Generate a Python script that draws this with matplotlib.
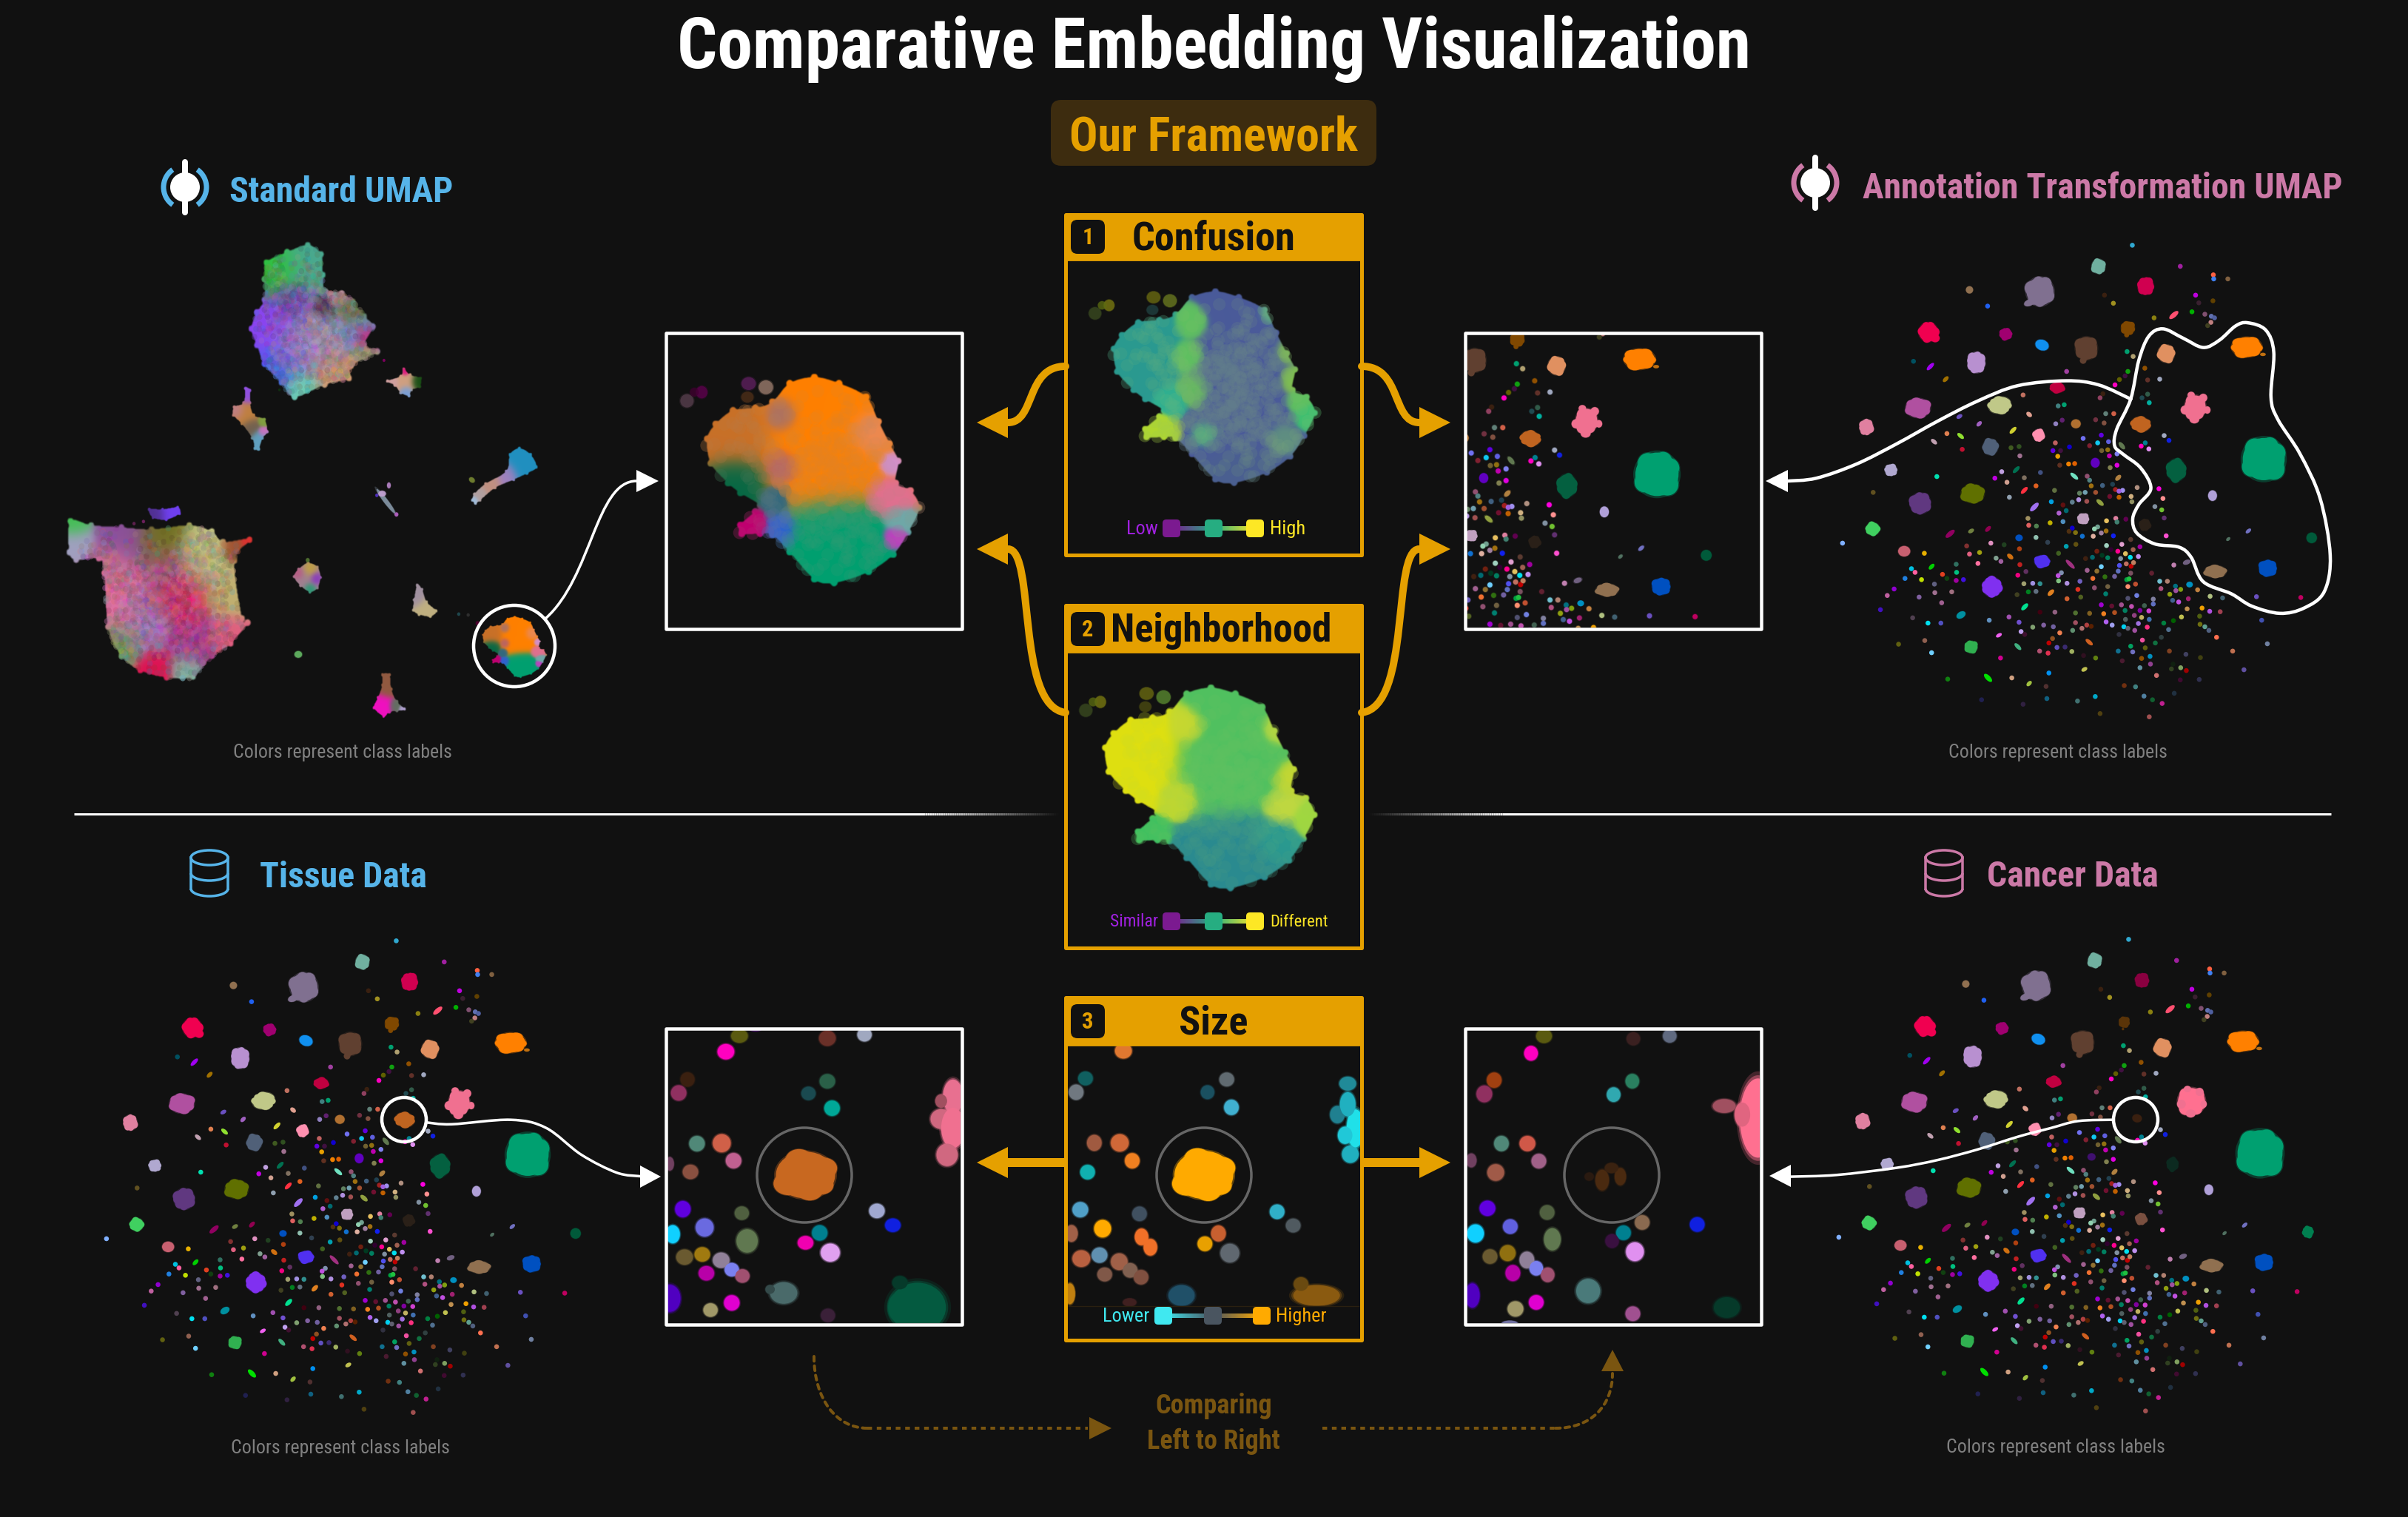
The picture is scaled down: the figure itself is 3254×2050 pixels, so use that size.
import numpy as np
import matplotlib
matplotlib.use("Agg")
import matplotlib.pyplot as plt
import matplotlib.colors as mcolors
from matplotlib import font_manager as fm
from matplotlib.path import Path
from matplotlib.patches import (Ellipse, PathPatch, Polygon, FancyBboxPatch, Circle, Arc, Rectangle)
from matplotlib.collections import PatchCollection, LineCollection

W, H = 3254, 2050
BG = "#111111"
GOLD = "#e5a000"
BLUE = "#56b4e9"
PINK = "#cc79a7"
DIM = "#7a5510"

installed = {f.name for f in fm.fontManager.ttflist}
COND = next(n for n in ["Roboto Condensed", "Liberation Sans Narrow", "Roboto"] if n in installed)
plt.rcParams["font.family"] = [COND]

# ---------- text ----------
TITLE = "Comparative Embedding Visualization"
FRAMEWORK = "Our Framework"
CAPTION = "Colors represent class labels"
SECTION_TITLES = ["Standard UMAP", "Annotation Transformation UMAP", "Tissue Data", "Cancer Data"]
METRICS = ["Confusion", "Neighborhood", "Size"]
LEGENDS = [("Low", "High"), ("Similar", "Different"), ("Lower", "Higher")]
LEGEND_COLOURS = [("#7b1a90", "#26ad81", "#fde725"), ("#7b1a90", "#26ad81", "#fde725"), ("#40e8f0", "#4a5560", "#ffaa00")]
LEGEND_TEXT = [("#a020e0", "#fde725"), ("#a020e0", "#fde725"), ("#40e8f0", "#ffaa00")]

# ---------- embedding: large clusters (x, y, w, h, angle, colour) ----------
BLOBS = [
 (800,328,36,38,0,"#70b0a0"),(655,390,72,74,0,"#807090"),(628,418,26,16,-20,"#807090"),(917,377,42,44,0,"#d00050"),
 (378,490,50,50,0,"#f00050"),(395,505,22,20,0,"#f00050"),(570,495,32,30,0,"#a00070"),(660,522,34,26,20,"#1090f0"),
 (770,530,58,60,0,"#604030"),(762,560,16,16,0,"#604030"),(873,480,36,34,0,"#804800"),(870,497,12,12,0,"#804800"),
 (968,543,44,46,0,"#e09060"),(1168,527,78,52,0,"#ff8000"),(1208,545,14,8,0,"#c07010"),(497,565,46,54,0,"#b890d0"),
 (698,627,38,28,0,"#c00040"),(352,677,64,50,0,"#b050a0"),(224,724,36,40,0,"#e080a0"),(555,670,58,42,-15,"#c0c888"),
 (1040,675,56,62,0,"#f07090"),(1015,682,22,22,0,"#f07090"),(1060,652,20,20,0,"#f07090"),(1070,682,16,18,0,"#f07090"),
 (1038,705,24,20,0,"#f07090"),(1030,645,18,16,0,"#f07090"),(905,717,50,38,10,"#c06420"),(744,716,24,22,0,"#b07030"),
 (652,744,30,32,0,"#ff90b0"),(532,773,40,42,0,"#506078"),(285,830,32,30,0,"#b0a8d0"),(792,812,22,24,0,"#6000c0"),
 (1210,803,112,112,0,"#00a070"),(993,830,50,58,0,"#046040"),(488,888,60,48,0,"#607000"),(358,912,54,54,0,"#603880"),
 (240,975,36,34,0,"#40d060"),(762,950,30,28,0,"#c0a0c0"),(1083,893,22,26,0,"#b0a0d8"),(318,1030,30,26,0,"#c86070"),
 (660,1055,40,32,0,"#5030f0"),(1090,1080,56,32,0,"#907050"),(1220,1072,46,42,0,"#0050c0"),(536,1118,50,50,0,"#8030f0"),
 (484,1266,34,32,0,"#30b050"),(915,965,30,30,0,"#2a2018"),(1329,997,26,26,0,"#005a3a"),(480,386,18,18,0,"#907050"),
 (459,1187,24,16,-30,"#0090a0"),(603,997,18,16,0,"#0050c0"),(1026,1112,16,14,0,"#0090c0"),
]
# elongated small clusters (x, y, length, width, angle, colour)
STREAKS = [
 (383,575,24,10,-45,"#a000f0"),(421,606,18,10,-45,"#a07000"),(987,448,28,12,-40,"#ff5070"),(458,746,20,10,40,"#90e030"),
 (588,732,22,10,-45,"#d0d030"),(641,921,28,12,-45,"#a070f0"),(596,829,22,10,-45,"#007050"),(740,845,24,10,40,"#70e0c0"),
 (616,880,22,10,-45,"#ff3040"),(804,910,22,11,40,"#90a040"),(432,987,28,12,-40,"#900060"),(526,975,18,10,-45,"#900050"),
 (484,980,16,10,-30,"#708040"),(730,1062,30,10,45,"#a03080"),(617,1167,22,11,-45,"#00e090"),(600,1265,22,10,45,"#40b080"),
 (777,1254,22,10,40,"#d06020"),(526,1342,26,12,45,"#00e000"),(628,1356,16,10,-45,"#a0c040"),(765,1321,16,10,-30,"#c0c050"),
 (553,1237,16,9,-30,"#f060f0"),(1172,980,16,9,-40,"#7070c0"),(1122,1000,12,8,-40,"#507060"),(849,849,18,11,-45,"#b08040"),
 (386,1068,18,10,-45,"#00d000"),(682,1132,20,11,-45,"#e08020"),(581,1043,18,11,40,"#d07010"),(392,760,18,10,40,"#c0a0b0"),
 (504,716,16,10,-45,"#a060c0"),(455,698,16,10,-30,"#6a50c0"),(628,693,16,11,40,"#e0a090"),(1019,1057,20,12,-20,"#706080"),
 (858,770,22,11,50,"#607850"),
]
DOTS_TOP = [
 (884,276,"#30a8d0"),(1003,328,"#a020a0"),(1085,349,"#ff6040"),(1086,359,"#4080f0"),(1121,359,"#806040"),(815,399,"#3a2010"),
 (837,419,"#a09020"),(1041,399,"#c000e0"),(1049,418,"#3a2030"),(1084,413,"#604000"),(525,426,"#2060f0"),(938,455,"#8a8010"),
 (1032,440,"#00b000"),(1064,446,"#805070"),(1080,451,"#6070b0"),(1088,455,"#5060a0"),(1079,466,"#c08080"),(1071,474,"#404020"),
 (871,538,"#00a070"),(886,550,"#b0a070"),(341,562,"#005060"),(721,587,"#a040a0"),(915,579,"#905000"),(873,587,"#10a010"),
 (852,607,"#606000"),(866,598,"#401040"),(922,608,"#603028"),(952,606,"#a0a8c0"),(841,620,"#ff00c0"),(613,645,"#c07060"),
 (811,642,"#3a2010"),(804,652,"#904060"),(922,643,"#305a48"),(908,652,"#204a50"),(926,664,"#00b0a0"),(700,672,"#408080"),
 (715,669,"#00a070"),(818,691,"#608078"),(838,691,"#d06048"),(814,714,"#805040"),(793,706,"#703040"),(694,716,"#9080c0"),
 (710,707,"#602070"),(424,740,"#e08050"),(462,779,"#c01030"),(583,775,"#405a20"),(603,772,"#305020"),(762,752,"#7070f0"),
 (807,744,"#6000e0"),(798,763,"#10c8f0"),(825,760,"#6060e0"),(693,763,"#c06060"),(687,782,"#6000e0"),(728,773,"#1000d0"),
 (706,782,"#401040"),(699,796,"#e8a000"),(778,770,"#802030"),(808,782,"#706030"),(823,780,"#907010"),(846,790,"#8080f0"),
 (827,795,"#c000b0"),(963,745,"#a0a8c0"),(975,757,"#1020e0"),(906,771,"#ff00c0"),(916,763,"#008090"),(925,778,"#e090f0"),
 (605,795,"#a07090"),(560,834,"#c0a0e0"),(543,850,"#c000e0"),(573,860,"#d0a090"),(616,849,"#807060"),(656,836,"#405080"),
 (726,815,"#f08000"),(741,814,"#e06000"),(704,818,"#603020"),(829,824,"#808050"),(846,818,"#e000e0"),(772,845,"#905070"),
 (778,855,"#508080"),(399,846,"#00e0b0"),(241,885,"#605020"),(645,869,"#e06020"),(691,880,"#607040"),(782,869,"#a07010"),
 (810,868,"#406080"),(835,865,"#204050"),(842,878,"#a02020"),(860,880,"#a090f0"),(851,882,"#a060e0"),(753,887,"#608060"),
 (767,885,"#70a0b0"),(793,885,"#a05030"),(579,897,"#90a0b0"),(828,895,"#701030"),(851,897,"#c06000"),(881,895,"#d0b080"),
 (883,908,"#909060"),(683,908,"#00a0e0"),(751,903,"#b090e0"),(771,907,"#a05050"),(735,909,"#608090"),(712,916,"#601010"),
]
DOTS_MID = [
 (720,930,"#006a70"),(702,936,"#b060d0"),(896,873,"#b09080"),(950,876,"#ff00e0"),(960,900,"#ff9090"),(940,920,"#8090a0"),
 (957,928,"#70c030"),(963,948,"#603070"),(868,951,"#600050"),(843,949,"#e080a0"),(846,958,"#408070"),(820,955,"#e8c060"),
 (798,970,"#70a090"),(790,975,"#90d0b0"),(625,949,"#a09060"),(680,960,"#c0b000"),(712,957,"#5090c0"),(627,966,"#e06060"),
 (646,968,"#508050"),(735,973,"#1000d0"),(727,981,"#503010"),(743,984,"#807010"),(760,993,"#1070d0"),(787,993,"#e0b0a0"),
 (807,985,"#a080a0"),(819,980,"#a07010"),(837,992,"#1020f0"),(880,1001,"#5a3a30"),(968,992,"#ff50d0"),(645,996,"#90c0b0"),
 (533,1010,"#e090c0"),(473,1017,"#803030"),(566,1014,"#204020"),(604,1024,"#b04010"),(674,1008,"#304050"),(720,1018,"#00a0b0"),
 (744,1013,"#605010"),(768,1048,"#402010"),(785,1045,"#006a70"),(796,1030,"#702010"),(820,1016,"#a0d0c0"),(848,1030,"#ff0090"),
 (867,1036,"#e0c060"),(886,1026,"#a06050"),(903,1019,"#a000a0"),(858,1013,"#e0a0d0"),(831,1026,"#300030"),(809,1040,"#003a20"),
 (823,1046,"#008060"),(855,1048,"#8090a0"),(879,1045,"#00e0f0"),(899,1043,"#c090f0"),(987,1064,"#c080b0"),(480,1037,"#e06080"),
 (505,1033,"#a0a010"),(546,1047,"#80a090"),(558,1055,"#a060a0"),(447,1062,"#307060"),(501,1060,"#ff70a0"),(605,1063,"#c02020"),
 (701,1035,"#406020"),(772,1077,"#a06090"),(796,1079,"#907030"),(807,1068,"#70d0ff"),(852,1065,"#5050f0"),(869,1061,"#c07060"),
 (881,1067,"#c00000"),(887,1058,"#c08060"),(849,1079,"#6070c0"),(880,1084,"#7a5060"),(368,1035,"#e8b000"),(336,1073,"#00c0e0"),
 (345,1082,"#ff60a0"),(413,1087,"#e04020"),(448,1082,"#00c080"),(424,1097,"#104010"),(361,1100,"#c0e000"),(320,1097,"#2080e0"),
 (447,1102,"#a000a0"),(465,1100,"#4010e0"),(393,1111,"#606080"),(600,1089,"#f00080"),(620,1080,"#603060"),(708,1083,"#8090b0"),
 (700,1090,"#c050e0"),(615,1110,"#a0a070"),(637,1109,"#a090e0"),(655,1110,"#309090"),(701,1103,"#80c080"),(722,1109,"#b090e0"),
 (754,1104,"#7060c0"),(786,1097,"#f07030"),(816,1093,"#307010"),(870,1100,"#00a040"),(876,1098,"#20c040"),(892,1111,"#c05030"),
 (873,1117,"#ff9070"),(932,1084,"#602030"),(952,1104,"#70c0d0"),(971,1104,"#b08070"),(991,1116,"#007080"),(1046,1125,"#c08040"),
 (1004,1124,"#80a010"),(977,1136,"#90a010"),(955,1122,"#b05080"),(992,1127,"#a050a0"),(165,1010,"#80b0ff"),(840,1092,"#7060a0"),
]
DOTS_LOW = [
 (293,1123,"#9000d0"),(276,1139,"#c060a0"),(259,1174,"#4010c0"),(355,1143,"#8060a0"),(394,1132,"#a07090"),(436,1130,"#a07080"),
 (411,1157,"#a06090"),(598,1137,"#404020"),(626,1130,"#008020"),(645,1129,"#607080"),(749,1124,"#e03020"),(790,1120,"#905070"),
 (823,1117,"#706040"),(722,1147,"#d06030"),(756,1143,"#506020"),(818,1135,"#008070"),(895,1139,"#7080e0"),(873,1146,"#505070"),
 (936,1148,"#8080a0"),(1023,1147,"#a02070"),(1108,1145,"#406070"),(1077,1141,"#b0c080"),(1192,1142,"#6a50c0"),(1302,1144,"#c00060"),
 (999,1155,"#c050e0"),(984,1151,"#406090"),(1020,1172,"#c09050"),(1057,1170,"#f0a000"),(1076,1178,"#b050e0"),(1102,1179,"#a04050"),
 (807,1162,"#a000d0"),(833,1165,"#601030"),(857,1162,"#a05090"),(882,1166,"#c050b0"),(903,1176,"#8000a0"),(925,1177,"#d040d0"),
 (936,1160,"#6070c0"),(914,1164,"#406050"),(866,1176,"#008060"),(377,1207,"#00e0f0"),(409,1207,"#5050c0"),(339,1194,"#504050"),
 (529,1200,"#6090c0"),(578,1192,"#a050b0"),(603,1205,"#7050d0"),(655,1180,"#400010"),(692,1180,"#906080"),(743,1182,"#507030"),
 (778,1183,"#806020"),(813,1184,"#f08020"),(840,1181,"#b05020"),(889,1188,"#904080"),(907,1193,"#c0b060"),(926,1198,"#4070b0"),
 (867,1198,"#506060"),(962,1207,"#008040"),(986,1201,"#006000"),(1006,1192,"#c0c050"),(1051,1190,"#506010"),(1052,1210,"#707010"),
 (1205,1200,"#4050b0"),(1064,1216,"#60a090"),(1074,1225,"#506080"),(637,1217,"#80a070"),(664,1212,"#8060a0"),(688,1216,"#7060a0"),
 (743,1206,"#a05060"),(771,1212,"#b04040"),(819,1204,"#b060f0"),(834,1212,"#a0a0f0"),(863,1216,"#00d0f0"),(873,1220,"#606070"),
 (851,1235,"#303040"),(890,1225,"#a050a0"),(899,1208,"#a070e0"),(921,1217,"#ff3080"),(974,1223,"#507090"),(1093,1242,"#ff7050"),
 (608,1228,"#c0a0f0"),(617,1235,"#401030"),(704,1231,"#f08050"),(736,1225,"#609070"),(759,1220,"#b07070"),(782,1215,"#5a2000"),
 (956,1242,"#304040"),(686,1245,"#905020"),(941,1256,"#107040"),(909,1249,"#f050a0"),(677,1256,"#c00000"),(880,1264,"#00a060"),
 (916,1268,"#606010"),(885,1278,"#7070c0"),(976,1276,"#804020"),(1133,1276,"#c07050"),(369,1250,"#906050"),(304,1259,"#606010"),
 (697,1267,"#6050c0"),(717,1266,"#3a2a70"),(654,1276,"#b05070"),(675,1281,"#e03050"),(734,1277,"#a0b060"),(849,1276,"#107090"),
 (386,1280,"#70d0ff"),(1219,1258,"#7080a0"),(1017,1284,"#404060"),(763,1287,"#301020"),(557,1293,"#d00090"),(793,1293,"#608010"),
 (907,1294,"#905000"),(928,1289,"#0090c0"),(929,1308,"#904090"),(1053,1292,"#404010"),(859,1300,"#4a1a30"),(985,1308,"#102010"),
 (903,1317,"#6090a0"),(1004,1317,"#80a060"),(981,1320,"#304020"),(1018,1324,"#a00000"),(1161,1322,"#6050a0"),(944,1336,"#d07070"),
 (426,1345,"#108010"),(585,1342,"#d0a080"),(677,1330,"#0090f0"),(1003,1347,"#400a30"),(1050,1346,"#303050"),(670,1363,"#503030"),
 (864,1361,"#703010"),(892,1364,"#408080"),(913,1387,"#5080a0"),(988,1380,"#203040"),(510,1396,"#202050"),(672,1393,"#106080"),
 (748,1399,"#407070"),(792,1388,"#00a8c8"),(934,1396,"#106030"),(613,1407,"#302040"),(958,1405,"#c02090"),(804,1430,"#504010"),
 (926,1438,"#a05050"),
]
# how the clusters differ in the cancer panel (key: x, y of the cluster -> w, h, colour)
CANCER_BLOBS = {
 (917,377):(36,36,"#8a0040"),(873,480):(28,28,"#5a3408"),(870,497):(6,6,"#5a3408"),(905,717):(24,20,"#3a2010"),
 (993,830):(30,36,"#0c2a20"),(915,965):(30,30,"#7a5040"),(792,812):(20,18,"#401070"),(1040,675):(72,70,"#ff7090"),
 (1210,803):(120,122,"#00a070"),(1329,997):(28,30,"#008050"),
}
# ---------- standard UMAP (colour patches x, y, spread, colour) ----------
TOP_OUTLINE = [(705,310),(760,285),(815,268),(850,290),(855,340),(862,380),(905,385),(935,405),(965,440),(988,465),(965,510),(1000,525),
 (930,560),(925,590),(860,605),(780,635),(745,600),(700,555),(680,510),(665,470),(680,430),(700,400),(700,350)]
TOP_PATCHES = [(740,330,35,"#30c040"),(810,310,35,"#4aa890"),(710,470,40,"#8a44f0"),(725,570,35,"#4060f0"),(820,500,40,"#a090d0"),
 (860,490,30,"#b0a0b8"),(890,575,28,"#d09a70"),(790,612,25,"#70d0b0"),(925,425,22,"#5a7a30"),(925,470,25,"#7090d0"),(962,492,14,"#c03080"),
 (770,402,25,"#6a40c0"),(860,422,14,"#302040"),(905,395,18,"#c090a0"),(770,520,30,"#9070e0"),(960,525,12,"#a0a070")]
BOTTOM_OUTLINE = [(185,935),(240,945),(320,950),(400,955),(500,945),(560,960),(590,985),(660,980),(620,1030),(640,1170),(655,1180),(610,1230),
 (560,1260),(510,1310),(440,1312),(370,1295),(320,1260),(285,1190),(275,1060),(260,1025),(200,1028),(182,1010)]
BOTTOM_PATCHES = [(200,945,18,"#40c050"),(205,985,22,"#a0a0c0"),(320,1120,50,"#e070a0"),(300,1050,30,"#e07090"),(330,990,40,"#8a509a"),
 (420,985,35,"#707020"),(530,1030,38,"#c0c080"),(480,1115,38,"#f02060"),(410,1295,25,"#e01050"),(495,1295,25,"#80b8a0"),(320,1230,28,"#70a050"),
 (385,1180,38,"#a078c0"),(510,1225,35,"#b03090"),(595,1210,25,"#e06080"),(590,1110,30,"#c0b070"),(440,1050,30,"#a05080"),(620,1000,16,"#a05030"),(650,985,8,"#e03030")]
# smaller clusters of the standard UMAP: outline, patches
MINI_CLUSTERS = [
 ([(650,615),(662,620),(662,650),(672,680),(700,690),(708,720),(695,735),(685,762),(675,760),(668,735),(640,700),(618,680),(620,660),(645,650)],
  [(655,630,12,"#9050e0"),(650,675,16,"#c08040"),(630,668,10,"#c08090"),(665,710,12,"#706050"),(685,735,10,"#60a0c0"),(695,720,6,"#d070c0"),(695,695,6,"#80a040")]),
 ([(1025,597),(1060,585),(1068,568),(1085,582),(1112,590),(1110,610),(1088,618),(1082,632),(1060,625),(1045,607)],
  [(1075,598,14,"#d0a080"),(1103,598,9,"#104a10"),(1075,622,8,"#70a0e0"),(1040,600,8,"#d0a0a0"),(1072,575,5,"#e00080")]),
 ([(1250,885),(1255,870),(1285,845),(1340,815),(1350,775),(1375,760),(1405,775),(1420,805),(1395,820),(1360,835),(1310,855),(1270,885),(1258,892)],
  [(1385,790,24,"#2090c0"),(1340,825,15,"#a080c0"),(1300,840,15,"#c09080"),(1268,870,10,"#b0a0a0"),(1255,885,5,"#a0c0e0")]),
 ([(790,1050),(815,1035),(840,1045),(848,1070),(840,1095),(820,1105),(795,1090),(778,1068)],
  [(813,1068,22,"#a08090"),(820,1050,10,"#d0b020"),(835,1072,8,"#8020d0"),(820,1097,8,"#10a070"),(790,1060,8,"#c05080")]),
 ([(1097,1125),(1105,1090),(1118,1100),(1130,1130),(1155,1152),(1140,1165),(1110,1160),(1095,1150)],
  [(1125,1148,14,"#c0b080"),(1105,1120,12,"#a090a0")]),
 ([(1012,1305),(1030,1305),(1035,1340),(1050,1370),(1070,1388),(1050,1392),(1030,1395),(1015,1405),(990,1385),(1000,1360),(1012,1330)],
  [(1010,1378,14,"#f010c0"),(1022,1335,14,"#905a40"),(1045,1380,8,"#607060"),(1065,1389,5,"#b0a0d0")]),
 ([(395,905),(430,905),(470,900),(475,915),(440,930),(405,925)],
  [(450,908,18,"#7040f0"),(415,915,14,"#503090")]),
]
SMALL_CLUSTERS = [
 (1022,886,76,11,50,"#8090a0"),(1012,868,20,14,0,"#c0a0d0"),(1030,848,10,14,0,"#b080c0"),(1050,918,10,10,0,"#b060c0"),(998,872,8,8,0,"#5030c0"),
 (1250,835,16,12,30,"#708030"),(790,1255,20,16,0,"#60b060"),(1215,1158,8,8,0,"#204a50"),(1240,1160,8,8,0,"#303030"),(1265,1180,10,10,0,"#500030"),
 (1017,547,7,7,0,"#800060"),(740,618,6,6,0,"#103010"),(815,1028,10,10,0,"#507030"),(380,935,8,8,0,"#702060"),(355,940,8,8,0,"#602050"),
]
# ---------- magnified cluster in the insets ----------
CLUSTER_OUTLINE = [(225,490),(260,430),(330,375),(420,365),(490,340),(560,265),(660,240),(760,265),(870,320),(920,420),(965,510),(1000,580),
 (990,670),(1050,700),(1085,770),(1040,870),(980,960),(880,1030),(740,1075),(660,1060),(560,950),(490,880),(440,875),(365,875),(360,840),
 (420,785),(440,760),(360,710),(310,670),(240,590)]
CLUSTER_LABELS = [(340,490,70,"#c87028"),(700,500,110,"#ff8000"),(880,470,40,"#e88a60"),(340,650,50,"#046845"),(740,950,90,"#00a070"),
 (520,860,28,"#3060d0"),(410,845,28,"#c00070"),(960,725,32,"#e07090"),(985,890,18,"#c040c0"),(1000,820,22,"#70a8a8"),(970,590,20,"#d090d0"),
 (530,600,30,"#b06070"),(500,740,25,"#306880"),(530,400,30,"#a07070")]
CLUSTER_CONFUSION = [(760,300,50,"#4a5a9a"),(800,500,80,"#4a5a9a"),(760,800,80,"#4a5a9a"),(780,1030,60,"#4a6090"),(320,480,70,"#2a9a90"),
 (560,380,25,"#60c060"),(540,520,25,"#60c060"),(560,680,25,"#60b860"),(430,845,26,"#b0d830"),(900,330,22,"#60b880"),(970,500,25,"#80c050"),
 (1000,620,25,"#80c050"),(1020,720,20,"#60c060"),(1050,780,20,"#40c070"),(940,880,25,"#609080"),(480,720,25,"#30b090"),(620,860,22,"#50b080")]
CLUSTER_NEIGHBOUR = [(330,500,80,"#dfe010"),(700,300,50,"#50c060"),(750,550,90,"#50c060"),(760,950,80,"#2a8a90"),(920,880,40,"#2a9a90"),
 (930,420,25,"#b8d840"),(990,620,30,"#c8d830"),(950,740,30,"#c0d840"),(1050,790,25,"#a0d840"),(420,845,24,"#40c060"),(530,700,30,"#c0d830"),(560,400,30,"#c8d830")]
SATELLITES = [(145,335,54,54),(205,300,46,50),(175,300,36,36),(395,265,58,52),(465,280,58,56),(390,320,50,44)]
SATELLITE_COLOURS = [["#5a4050","#600050","#400030","#602060","#a08070","#503018"],
                     ["#3a4a20","#7a7a10","#5a6a10","#6a6a10","#6a7a20","#204040"],
                     ["#3a4a20","#7a7a10","#5a6a10","#6a6a10","#5a8a30","#4a4a10"]]
# ---------- bottom insets: (x, y, w, h, colour) ----------
TISSUE_INSET = [(1128,495,28,30,"#5a5a10"),(1105,530,28,34,"#ff00c0"),(1277,500,28,34,"#6a3028"),(1340,492,24,30,"#a0a8c0"),(1040,592,24,32,"#3a2010"),
 (1025,622,26,34,"#903060"),(1277,596,26,32,"#2a6048"),(1245,623,24,30,"#1a4a50"),(1285,656,26,34,"#00a898"),(1056,735,26,34,"#508878"),
 (1098,734,30,40,"#d06048"),(1118,773,26,34,"#c06090"),(1045,798,26,32,"#8a5040"),(1032,881,26,36,"#6000e0"),(1132,890,24,30,"#506040"),
 (1361,885,26,32,"#a0a8d0"),(1388,917,26,30,"#1020e0"),(1015,937,24,40,"#10d0ff"),(1069,922,30,40,"#6a6ae0"),(1141,952,36,52,"#607850"),
 (1240,956,26,30,"#f000b0"),(1264,934,26,34,"#008090"),(1282,978,32,40,"#e0a0f0"),(1035,988,28,34,"#6a5a30"),(1065,982,26,32,"#a07a10"),
 (1097,995,28,34,"#908098"),(1115,1016,24,30,"#7a80f0"),(1072,1024,26,32,"#b800a8"),(1133,1030,24,30,"#a05070"),(1203,1068,46,48,"#4a6a6a"),
 (1180,1060,16,20,"#344a4a"),(1115,1090,26,34,"#e000d0"),(1079,1106,24,30,"#a09868"),(1278,1118,24,30,"#3a2038"),(1010,1080,36,60,"#5000c0"),
 (1010,780,14,30,"#704060"),(1490,630,34,76,"#e87090"),(1470,680,36,44,"#d06880"),(1490,700,40,90,"#f07090"),(1480,760,36,50,"#d06880"),
 (1470,640,20,30,"#a05060"),(1430,1100,96,110,"#045a40"),(1395,1100,30,60,"#045a40"),(1400,1045,26,30,"#063a2a"),(1155,480,20,10,"#401060")]
SIZE_INSET = [(268,215,32,44,"#e07830"),(195,295,28,40,"#106060"),(177,335,28,44,"#707880"),(467,298,28,40,"#606a70"),(430,335,26,40,"#1a5060"),
 (476,379,28,44,"#40b0d0"),(212,482,28,46,"#a05a40"),(261,482,34,50,"#d06838"),(285,534,28,44,"#f08020"),(199,567,28,42,"#10b0b0"),
 (185,676,30,44,"#50a0c8"),(299,688,28,42,"#405060"),(228,731,32,50,"#ffaa00"),(168,745,24,48,"#a06048"),(303,755,26,48,"#f07028"),(320,785,26,48,"#f07028"),
 (451,745,28,46,"#c86030"),(425,775,28,42,"#e8a000"),(473,802,36,54,"#606870"),(564,682,28,42,"#30b0c8"),(595,722,28,40,"#505a60"),
 (187,818,34,48,"#b86040"),(222,808,30,44,"#6090b0"),(260,827,32,48,"#a06048"),(281,852,28,42,"#806050"),(232,864,28,40,"#805848"),
 (302,872,28,42,"#805040"),(380,925,50,60,"#205068"),(280,945,26,24,"#402020"),(165,920,20,60,"#c08010"),(640,925,90,60,"#8a5a10"),
 (610,892,28,40,"#6a4a10"),(680,400,28,50,"#208090"),(700,310,32,40,"#208a98"),(705,515,32,50,"#20b0c0"),(715,440,34,110,"#20e0e8"),(700,370,30,70,"#20b0c0"),
 (695,460,28,50,"#20c8d8"),(462,195,20,10,"#3a2a10")]
CANCER_INSET = [(1078,172,30,40,"#5a5a10"),(1053,222,26,42,"#ff00c0"),(1250,180,26,38,"#3a2020"),(1320,172,26,38,"#606a80"),(982,300,28,44,"#a04010"),
 (963,340,30,48,"#903060"),(1248,303,26,42,"#2a8060"),(1212,342,26,42,"#30a8b0"),(996,484,28,44,"#508878"),(1046,484,30,44,"#d05848"),
 (1068,535,28,42,"#a06088"),(985,568,32,48,"#a05a48"),(938,533,20,40,"#704060"),(969,672,30,44,"#6000e0"),(1084,684,28,42,"#506040"),
 (1267,713,28,42,"#8a6a50"),(1373,719,28,42,"#1020e0"),(1231,743,28,42,"#008090"),(1013,725,28,42,"#6060e0"),(946,745,32,52,"#10d0ff"),
 (1094,762,32,64,"#607850"),(1209,767,26,40,"#3a1040"),(1253,798,34,54,"#e090f0"),(974,812,28,42,"#6a5a30"),(1008,802,30,46,"#907010"),
 (1045,822,28,48,"#908098"),(1063,846,26,42,"#7a80f0"),(1018,860,28,46,"#b800a8"),(1085,865,26,42,"#a05070"),(1163,912,46,70,"#4a7a7a"),
 (1063,945,28,42,"#e000d0"),(1023,964,30,44,"#a09868"),(1249,978,28,42,"#a05090"),(940,925,28,70,"#5000c0"),(1430,960,50,60,"#063a2a"),
 (1190,590,26,60,"#4a2a10"),(1225,580,22,50,"#4a2a10"),(1208,555,26,30,"#3a2210"),(1165,580,18,24,"#2a1a10"),(1490,410,70,230,"#ff7090"),(1460,400,30,70,"#e06580"),
 (1425,375,44,40,"#a05060"),(1012,1006,30,16,"#7070a0")]
# big central clusters of the bottom insets (x, y, w, h, colour)
INSET_CORES = {"tissue":(1240,805,108,112,"#c86820"), "size":(423,575,122,150,"#ffaa00")}
# ---------- where lobes sit on a cluster edge (relative x, relative y, relative size) ----------
LOBES = [(0.42,-0.2,.42),(-0.4,0.25,.46),(0.1,0.45,.4),(-0.15,-0.45,.42),(0.38,0.3,.36),(-0.42,-0.22,.36),(0.2,-0.42,.34),(-0.25,0.42,.34)]

# ---------- helpers ----------
fig = plt.figure(figsize=(W/100, H/100), dpi=100, facecolor=BG)

def region(x, y, w, h, xlim=(0,1568), ylim=(0,1568), z=2):
    ax = fig.add_axes([x/W, 1-(y+h)/H, w/W, h/H], zorder=z)
    ax.set_xlim(*xlim); ax.set_ylim(ylim[1], ylim[0]); ax.axis("off"); ax.patch.set_alpha(0)
    return ax

ov = region(0, 0, W, H, (0,W), (0,H), z=8)

def spline(points, closed=False):
    P = np.array(points, float)
    n = len(P)
    verts, codes = [P[0]], [Path.MOVETO]
    segs = n if closed else n-1
    for i in range(segs):
        if closed:
            p0,p1,p2,p3 = P[(i-1)%n],P[i],P[(i+1)%n],P[(i+2)%n]
        else:
            p0,p1,p2,p3 = P[max(i-1,0)],P[i],P[i+1],P[min(i+2,n-1)]
        verts += [p1+(p2-p0)/6, p2-(p3-p1)/6, p2]
        codes += [Path.CURVE4]*3
    return Path(verts, codes)

def outline_polygon(outline):
    return Path(spline(outline, closed=True).to_polygons(closed_only=False)[0])

def local_colour(patches, x, y):
    tot = 1e-12; c = np.zeros(3)
    for (px,py,s,col) in patches:
        g = np.exp(-((x-px)**2+(y-py)**2)/(2*s*s))+1e-9
        c += g*np.array(mcolors.to_rgb(col)); tot += g
    return c/tot

def wash(ax, outline, patches, step=2.0, blur=3, bumps=0.0):
    pts = np.array(outline, float)
    x0,y0 = pts.min(0)-20-bumps; x1,y1 = pts.max(0)+20+bumps
    xs = np.arange(x0,x1,step); ys = np.arange(y0,y1,step)
    X,Y = np.meshgrid(xs,ys)
    m = outline_polygon(outline).contains_points(np.c_[X.ravel(),Y.ravel()]).reshape(X.shape)
    if bumps:
        for (px,py) in outline:
            m |= (X-px)**2+(Y-py)**2 < bumps**2
    m = m.astype(float)
    for _ in range(blur):
        m = (m+np.roll(m,1,0)+np.roll(m,-1,0)+np.roll(m,1,1)+np.roll(m,-1,1))/5
    rgb = np.zeros(X.shape+(3,)); tot = np.zeros(X.shape)
    for (px,py,s,c) in patches:
        g = np.exp(-((X-px)**2+(Y-py)**2)/(2*s*s))+1e-9
        rgb += g[...,None]*np.array(mcolors.to_rgb(c)); tot += g
    rgb /= tot[...,None]
    im = np.dstack([rgb, np.clip(m*1.5-0.25,0,1)])
    lim = (ax.get_xlim(), ax.get_ylim())
    ax.imshow(im, extent=(xs[0],xs[-1],ys[-1],ys[0]), origin="upper", aspect="auto", interpolation="bilinear", zorder=1)
    ax.set_xlim(*lim[0]); ax.set_ylim(*lim[1])

def mottle(ax, outline, patches, diam, alpha, mix=0.4, tint=None, every=1, z=2):
    """Overlapping point texture: the read embedding positions are re-used inside a cluster outline."""
    pts = np.array(outline, float)
    lo, hi = pts.min(0), pts.max(0)
    all_d = DOTS_TOP+DOTS_MID+DOTS_LOW
    u = (np.array([d[0] for d in all_d])-165)/1137.0
    v = (np.array([d[1] for d in all_d])-276)/1162.0
    path = outline_polygon(outline)
    items = []
    for uu,vv in ((u,v),(1-u,v),(u,1-v),(v,u),(1-v,1-u),(v,1-u)):
        for i in range(0,len(u),every):
            x = lo[0]+uu[i]*(hi[0]-lo[0]); y = lo[1]+vv[i]*(hi[1]-lo[1])
            if path.contains_point((x,y)):
                base = local_colour(patches,x,y)
                other = np.array(mcolors.to_rgb(tint if tint else all_d[i][2]))
                col = base*(1-mix)+other*mix
                items.append(Ellipse((x,y),diam,diam,facecolor=(*col,alpha),edgecolor="none"))
    ax.add_collection(PatchCollection(items, match_original=True, zorder=z))

def soft(ax, items, layers=((1.18,0.22),(1.08,0.45),(1.0,1.0)), z=3):
    patches = []
    for sc,al in layers:
        for (x,y,w,h,ang,c) in items:
            patches.append(Ellipse((x,y),w*sc,h*sc,angle=ang,facecolor=mcolors.to_rgba(c,al),edgecolor="none"))
    ax.add_collection(PatchCollection(patches, match_original=True, zorder=z))

def lobed(items):
    out = []
    for i,(x,y,w,h,a,c) in enumerate(items):
        if w < 28 or h < 28:
            out.append((x,y,w,h,a,c)); continue
        out.append((x,y,w*.93,h*.93,a,c))
        r = np.radians(i*53)
        for (lx,ly,ls) in LOBES[:5+(i%4)]:
            qx = lx*np.cos(r)-ly*np.sin(r); qy = lx*np.sin(r)+ly*np.cos(r)
            out.append((x+qx*w*.68,y+qy*h*.68,w*ls,h*ls,0,c))
    return out

def embedding(ax, overrides=None, blur=False):
    overrides = overrides or {}
    bl = []
    for (x,y,w,h,a,c) in BLOBS:
        if (x,y) in overrides:
            w,h,c = overrides[(x,y)]
        bl.append((x,y,w,h,a,c))
    soft(ax, lobed(bl), layers=((1.1,0.3),(1.0,1.0)))
    dots = [(x,y,12,12,0,c) for (x,y,c) in DOTS_TOP+DOTS_MID+DOTS_LOW]
    dots += [(x,y,l,w,a,c) for (x,y,l,w,a,c) in STREAKS]
    soft(ax, dots, layers=((1.25,0.3),(1.0,1.0)) if blur else ((1.0,1.0),), z=4)

def box(x0,y0,x1,y1,ec,lw,z=5,fc="none"):
    ov.add_patch(Rectangle((x0,y0),x1-x0,y1-y0,fill=fc!="none",facecolor=fc,edgecolor=ec,lw=lw*0.72,zorder=z,joinstyle="round"))

def curve(path, color, lw, ax=ov, z=6, **kw):
    ax.add_patch(PathPatch(path, facecolor="none", edgecolor=color, lw=lw*0.72, zorder=z, clip_on=False, capstyle="round", **kw))

def head(tip, base, half, color, ax=ov, z=6):
    t=np.array(tip,float); b=np.array(base,float); d=(t-b)/np.linalg.norm(t-b); n=np.array([-d[1],d[0]])
    ax.add_patch(Polygon([t,b+n*half,b-n*half],closed=True,facecolor=color,edgecolor="none",zorder=z,clip_on=False))

def gradient(x0,x1,y,c0,c1,lw,n=60,z=7):
    c0=np.array(mcolors.to_rgba(c0)); c1=np.array(mcolors.to_rgba(c1))
    xs=np.linspace(x0,x1,n+1)
    segs=[[(xs[i],y),(xs[i+1],y)] for i in range(n)]
    cols=[c0+(c1-c0)*(i+.5)/n for i in range(n)]
    ov.add_collection(LineCollection(segs,colors=cols,linewidths=lw*0.72,zorder=z,capstyle="butt"))

def txt(x,y,s,size,color,ha="center",weight="bold",ax=ov,z=9):
    ax.text(x,y+4,s,fontsize=size,color=color,ha=ha,va="center",fontweight=weight,zorder=z,family=COND)

def umap_icon(cx,cy,color):
    for a0,a1 in ((125,235),(-55,55)):
        ov.add_patch(Arc((cx,cy),58,58,theta1=a0,theta2=a1,edgecolor=color,lw=7*0.72,zorder=7))
    ov.add_patch(Circle((cx,cy),20,facecolor="white",edgecolor="none",zorder=8))
    ov.plot([cx,cx],[cy-34,cy+34],color="white",lw=8*0.72,solid_capstyle="round",zorder=8)

def db_icon(cx,cy,color):
    w,h=50,20
    lw=3.5*.72
    ov.add_patch(Ellipse((cx,cy-21),w,h,facecolor="none",edgecolor=color,lw=lw,zorder=7))
    for dy in (0,21):
        ov.add_patch(Arc((cx,cy+dy),w,h,theta1=0,theta2=180,edgecolor=color,lw=lw,zorder=7))
    for sx in (-1,1):
        ov.plot([cx+sx*w/2]*2,[cy-21,cy+21],color=color,lw=lw,zorder=7)

# ---------- title ----------
txt(1640,62,TITLE,68.8,"white")
ov.add_patch(FancyBboxPatch((1432,147),416,65,boxstyle="round,pad=12,rounding_size=14",facecolor="#3d2c0f",edgecolor="none",zorder=2))
txt(1640,182,FRAMEWORK,46,GOLD)
gradient(100,1250,1100,"#ffffff","#ffffff",3,n=1,z=1)
gradient(1250,1430,1100,"#ffffff",BG,3,z=1)
gradient(3150,2030,1100,"#ffffff","#ffffff",3,n=1,z=1)
gradient(2030,1850,1100,"#ffffff",BG,3,z=1)

# ---------- section headers ----------
umap_icon(250,253,BLUE); txt(310,256,SECTION_TITLES[0],34.4,BLUE,ha="left")
umap_icon(2453,247,PINK); txt(2517,251,SECTION_TITLES[1],34.4,PINK,ha="left")
db_icon(283,1180,BLUE); txt(351,1182,SECTION_TITLES[2],34.4,BLUE,ha="left")
db_icon(2627,1180,PINK); txt(2685,1181,SECTION_TITLES[3],34.4,PINK,ha="left")
for cx,cy in ((463,1013),(2781,1013),(460,1953),(2778,1952)):
    txt(cx,cy,CAPTION,18.6,"#808080",weight="normal")

# ---------- standard UMAP ----------
a1 = region(0,180,800,880)
wash(a1,TOP_OUTLINE,TOP_PATCHES,bumps=8)
wash(a1,BOTTOM_OUTLINE,BOTTOM_PATCHES,bumps=8)
mottle(a1,TOP_OUTLINE,TOP_PATCHES,15,0.4,mix=0.35)
mottle(a1,BOTTOM_OUTLINE,BOTTOM_PATCHES,15,0.4,mix=0.35)
for ol,pa in MINI_CLUSTERS:
    wash(a1,ol,pa,step=1.5,blur=2,bumps=4)
soft(a1,[(x,y,w,h,a,c) for (x,y,w,h,a,c) in SMALL_CLUSTERS],layers=((1.2,0.3),(1.0,0.95)))
a1b = region(640,820,110,110,(103.6,1217),(95.7,1230),z=3)
wash(a1b,CLUSTER_OUTLINE,CLUSTER_LABELS,step=6,blur=2,bumps=14)

# ---------- annotation + tissue + cancer panels ----------
a3 = region(2400,180,854,860)
embedding(a3)
a4 = region(54,1120,854,860)
embedding(a4)
a6 = region(2395,1118,854,860)
embedding(a6,CANCER_BLOBS)

# ---------- top insets ----------
in1 = region(902,452,396,396,(66,1254),(66,1254),z=3)
wash(in1,CLUSTER_OUTLINE,CLUSTER_LABELS,blur=7,bumps=14)
mottle(in1,CLUSTER_OUTLINE,CLUSTER_LABELS,52,0.3,mix=0.25,tint="#a09080",every=4)
soft(in1,[(x,y,w,h,0,c) for (x,y,w,h),c in zip(SATELLITES,SATELLITE_COLOURS[0])],layers=((1.15,0.25),(1.0,0.7)))
in2 = region(1982,452,396,396,(751,1458),(468,1170),z=3)
embedding(in2,blur=True)
box(900,450,1300,850,"white",4.5)
box(1980,450,2380,850,"white",4.5)

# ---------- metric panels ----------
c1 = region(1444,352,392,348,(32,1271),(104.5,1227),z=3)
wash(c1,CLUSTER_OUTLINE,CLUSTER_CONFUSION,blur=8,bumps=14)
mottle(c1,CLUSTER_OUTLINE,CLUSTER_CONFUSION,54,0.3,mix=0.35,tint="#90c070",every=4)
soft(c1,[(x,y,w,h,0,c) for (x,y,w,h),c in zip(SATELLITES,SATELLITE_COLOURS[1])],layers=((1.1,0.3),(1.0,0.7)))
c2 = region(1444,883,392,347,(74,1268),(98,1167),z=3)
wash(c2,CLUSTER_OUTLINE,CLUSTER_NEIGHBOUR,blur=8,bumps=14)
mottle(c2,CLUSTER_OUTLINE,CLUSTER_NEIGHBOUR,54,0.25,mix=0.2,tint="#a0d060",every=5)
soft(c2,[(x,y,w,h,0,c) for (x,y,w,h),c in zip(SATELLITES,SATELLITE_COLOURS[2])],layers=((1.1,0.3),(1.0,0.7)))

c3 = region(1440,1412,400,353,((1440-1330)*1.425,(1840-1330)*1.425),((1412-1320)*2.148,(1765-1320)*2.148),z=3)
soft(c3,[(x,y,w,h,0,c) for (x,y,w,h,c) in SIZE_INSET])
x_,y_,w_,h_,c_ = INSET_CORES["size"]
soft(c3,lobed([(x_,y_,w_,h_,0,c_)]),layers=((1.06,0.35),(1.0,1.0)))
ov.plot([1444,1836],[1765,1765],color="#2a2010",lw=1.0,zorder=4)
for (y0,y1,hy) in ((290,750,351),(818,1281,881),(1348,1811,1412)):
    box(1440,y0,1840,y1,GOLD,5)
    ov.add_patch(Rectangle((1440,y0),400,hy-y0,facecolor=GOLD,edgecolor=GOLD,lw=2,zorder=6))
for i,(yc,tx,sz) in enumerate(((320,1640,39),(850,1650,38),(1380,1640,39))):
    hh = 23
    ov.add_patch(FancyBboxPatch((1452,yc-hh+5),36,2*hh-10,boxstyle="round,pad=5,rounding_size=9",facecolor=BG,edgecolor="none",zorder=7))
    txt(1470,yc-3,str(i+1),22,GOLD)
    txt(tx,yc-1,METRICS[i],sz,BG)
for i,(y,xs,lx,rx,ls,rs) in enumerate(((714,(1583,1640,1696),1565,1716,19,19),(1245,(1583,1640,1696),1565,1716,17,16.2),(1778,(1572,1639,1705),1553,1724,19,19))):
    cs = LEGEND_COLOURS[i]
    gradient(xs[0],xs[1],y,cs[0],cs[1],6)
    gradient(xs[1],xs[2],y,cs[1],cs[2],6)
    for x,c in zip(xs,cs):
        ov.add_patch(FancyBboxPatch((x-8,y-8),16,16,boxstyle="round,pad=4,rounding_size=5",facecolor=c,edgecolor="none",zorder=8))
    txt(lx,y-3,LEGENDS[i][0],ls,LEGEND_TEXT[i][0],ha="right",weight="normal")
    txt(rx,y-3,LEGENDS[i][1],rs,LEGEND_TEXT[i][1],ha="left",weight="normal")

# ---------- bottom insets ----------
b1 = region(902,1392,396,396,((902-100)*1.2544,(1298-100)*1.2544),((1392-1100)*1.65,(1788-1100)*1.65),z=3)
soft(b1,[(x,y,w,h,0,c) for (x,y,w,h,c) in TISSUE_INSET])
x_,y_,w_,h_,c_ = INSET_CORES["tissue"]
soft(b1,lobed([(x_,y_,w_,h_,0,c_)]),layers=((1.06,0.35),(1.0,1.0)))
b2 = region(1982,1392,396,396,((1982-1330)*1.425,(2378-1330)*1.425),((1392-1320)*2.148,(1788-1320)*2.148),z=3)
soft(b2,[(x,y,w,h,0,c) for (x,y,w,h,c) in CANCER_INSET])
box(900,1390,1300,1790,"white",4.5)
box(1980,1390,2380,1790,"white",4.5)
for cx in (1087,1627,2178):
    ov.add_patch(Circle((cx,1588),64,facecolor="none",edgecolor="#666666",lw=3.5*0.72,zorder=6))

# ---------- gold connector arrows ----------
GOLD_LEFT = [((1440,495),(1385,495),(1400,571),(1362,571)),((1440,963),(1372,955),(1400,742),(1362,742))]
for (p0,p1,p2,p3) in GOLD_LEFT:
    curve(Path([p0,p1,p2,p3],[Path.MOVETO]+[Path.CURVE4]*3),GOLD,10)
    head((1320,p3[1]),(1362,p3[1]),21,GOLD)
    m = lambda p:(3280-p[0],p[1])
    curve(Path([m(p0),m(p1),m(p2),m(p3)],[Path.MOVETO]+[Path.CURVE4]*3),GOLD,10)
    head((1960,p3[1]),(1918,p3[1]),21,GOLD)
ov.plot([1362,1440],[1571,1571],color=GOLD,lw=12*.72,zorder=6,solid_capstyle="butt")
ov.plot([1840,1918],[1571,1571],color=GOLD,lw=12*.72,zorder=6,solid_capstyle="butt")
head((1320,1571),(1362,1571),21,GOLD); head((1960,1571),(1918,1571),21,GOLD)

# ---------- white annotations ----------
ov.add_patch(Circle((695,873),55,facecolor="none",edgecolor="white",lw=4.5*.72,zorder=6))
curve(Path([(737,836),(800,780),(805,650),(860,650)],[Path.MOVETO]+[Path.CURVE4]*3),"white",3.5)
head((890,650),(860,650),15,"white")

LASSO = [(880,655),(900,560),(925,500),(960,482),(1010,505),(1060,528),(1100,510),(1140,475),(1170,467),(1215,485),(1235,540),(1228,650),
 (1245,705),(1300,790),(1350,900),(1375,1040),(1360,1130),(1310,1170),(1250,1183),(1180,1165),(1130,1135),(1060,1105),(1030,1045),(1000,1020),
 (940,1012),(895,985),(885,950),(900,915),(930,875),(905,825),(860,790),(840,770),(845,730)]
LEADER = [(28,857),(100,850),(200,815),(300,765),(400,710),(500,660),(600,622),(720,610),(800,620),(880,655)]
curve(spline(LASSO,closed=True),"white",4.5,ax=a3)
curve(spline(LEADER),"white",4.5,ax=a3)
head((2386,650),(2416,650),15,"white")

ov.add_patch(Circle((546,1513),30,facecolor="none",edgecolor="white",lw=4.5*.72,zorder=6))
TISSUE_LEADER = [(598,688),(640,692),(740,682),(800,700),(860,760),(920,800),(960,808)]
curve(spline(TISSUE_LEADER),"white",3.5,ax=region(100,1100,1250,950,z=7))
head((893,1590),(865,1590),15,"white")
ov.add_patch(Circle((2886,1513),30,facecolor="none",edgecolor="white",lw=4.5*.72,zorder=6))
CANCER_LEADER = [(838,685),(750,688),(680,705),(600,725),(500,755),(400,780),(300,798),(150,815),(37,819)]
curve(spline(CANCER_LEADER),"white",3.5,ax=region(2400,1120,854,900,z=7))
head((2391,1589),(2420,1589),15,"white")

# ---------- comparing note ----------
txt(1640,1896,"Comparing",26,DIM)
txt(1640,1944,"Left to Right",26,DIM)
dash=dict(linestyle=(0,(1.6,1.6)))
curve(Path([(1100,1833),(1100,1890),(1130,1930),(1172,1930)],[Path.MOVETO]+[Path.CURVE4]*3),DIM,4,**dash)
ov.plot([1172,1470],[1930,1930],color=DIM,lw=4*.72,linestyle=(0,(1.6,1.6)),zorder=6)
head((1502,1930),(1472,1930),15,DIM)
ov.plot([1787,2102],[1930,1930],color=DIM,lw=4*.72,linestyle=(0,(1.6,1.6)),zorder=6)
curve(Path([(2102,1930),(2150,1930),(2179,1900),(2179,1856)],[Path.MOVETO]+[Path.CURVE4]*3),DIM,4,**dash)
head((2179,1824),(2179,1853),15,DIM)

fig.savefig("out.png", dpi=100, facecolor=BG)
